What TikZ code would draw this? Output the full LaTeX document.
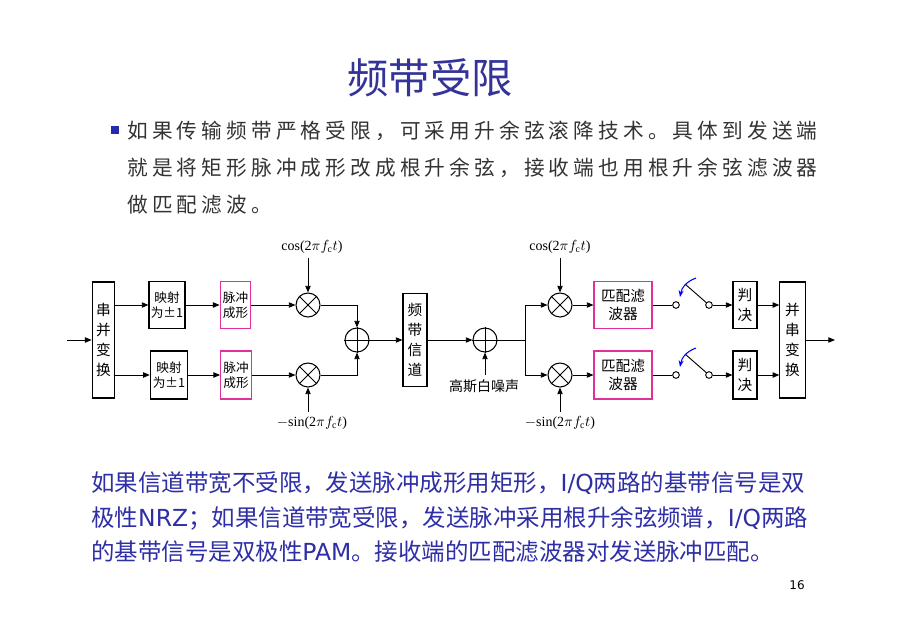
\documentclass[tikz,border=0pt]{standalone}
\usepackage{fontspec}
\setmainfont{Liberation Serif}
\newfontfamily\cjk{Noto Sans CJK SC}
\newfontfamily\cjkls{Noto Sans CJK SC}[LetterSpace=20]
\newfontfamily\vsans{DejaVu Sans}
\usetikzlibrary{arrows.meta}
\definecolor{ttl}{HTML}{333399}
\definecolor{btxt}{HTML}{2E2EA6}
\definecolor{mag}{HTML}{E0309A}
\begin{document}
\begin{tikzpicture}[x=0.75pt,y=-0.75pt,
  box/.style={draw,line width=0.8pt,inner sep=0pt,font=\cjk\fontsize{9.5}{11.5}\selectfont,align=center},
  vbox/.style={draw,line width=0.8pt,inner sep=0pt,font=\cjk\fontsize{11}{15}\selectfont,align=center},
  pbox/.style={box,draw=mag},
  circ/.style={draw,circle,line width=0.8pt,minimum size=18pt,inner sep=0pt},
  ar/.style={-{Triangle[length=5pt,width=4pt]},line width=0.7pt},
  ln/.style={line width=0.7pt},
  lab/.style={font=\fontsize{10.5}{12}\selectfont},
  contact/.style={draw,circle,line width=0.7pt,minimum size=5pt,inner sep=0pt}]
\useasboundingbox (0,0) rectangle (906,640);
% title and text
\node[font=\cjk\fontsize{31}{35}\selectfont,text=ttl] (title) at (430,78) {频带受限};
\fill[ttl!80!blue] (111,126) rectangle (119,134);
\node[anchor=west,font=\cjkls\fontsize{15.5}{18}\selectfont,text=black!80,inner sep=0pt] (t1) at (127,131) {如果传输频带严格受限，可采用升余弦滚降技术。具体到发送端};
\node[anchor=west,font=\cjkls\fontsize{15.5}{18}\selectfont,text=black!80,inner sep=0pt] (t2) at (127,168) {就是将矩形脉冲成形改成根升余弦，接收端也用根升余弦滤波器};
\node[anchor=west,font=\cjkls\fontsize{15.5}{18}\selectfont,text=black!80,inner sep=0pt] (t3) at (127,205) {做匹配滤波。};
\node[anchor=west,font=\cjk\fontsize{17.6}{20}\selectfont,text=btxt,inner sep=0pt] (b1) at (91,483) {如果信道带宽不受限，发送脉冲成形用矩形，{\vsans I/Q}两路的基带信号是双};
\node[anchor=west,font=\cjk\fontsize{17.6}{20}\selectfont,text=btxt,inner sep=0pt] (b2) at (91,518) {极性{\vsans NRZ}；如果信道带宽受限，发送脉冲采用根升余弦频谱，{\vsans I/Q}两路};
\node[anchor=west,font=\cjk\fontsize{17.6}{20}\selectfont,text=btxt,inner sep=0pt] (b3) at (91,552) {的基带信号是双极性{\vsans PAM}。接收端的匹配滤波器对发送脉冲匹配。};
\node[font=\vsans\fontsize{9}{11}\selectfont] (pg) at (797,585) {16};
% diagram
\node[vbox,minimum width=17pt,minimum height=87pt] (sp) at (103.5,340) {串\\并\\变\\换};
\coordinate (in) at (67,340);
\node[box,minimum width=27pt,minimum height=35pt] (m1) at (167,305) {映射\\为±1};
\node[box,minimum width=28pt,minimum height=36pt] (m2) at (169,375) {映射\\为±1};
\node[pbox,minimum width=23pt,minimum height=35pt] (p1) at (235.5,305) {脉冲\\成形};
\node[pbox,minimum width=23pt,minimum height=36pt] (p2) at (236,375) {脉冲\\成形};
\node[circ] (x1) at (308,305) {};
\node[circ] (x2) at (308,375) {};
\draw[line width=0.7pt] (x1.north west)--(x1.south east) (x1.north east)--(x1.south west);
\draw[line width=0.7pt] (x2.north west)--(x2.south east) (x2.north east)--(x2.south west);
\node[lab] (c1) at (312,247) {cos(2$\pi$$f_{\mathrm c}t$)};
\node[lab] (s1) at (312,423) {$-$sin(2$\pi$$f_{\mathrm c}t$)};
\node[circ] (a1) at (357,340) {};
\draw[line width=0.7pt] (a1.north)--(a1.south) (a1.west)--(a1.east);
\node[vbox,minimum width=18pt,minimum height=70pt] (ch) at (415,340) {频\\带\\信\\道};
\node[circ] (a2) at (485,340) {};
\draw[line width=0.7pt] (a2.north)--(a2.south) (a2.west)--(a2.east);
\node[font=\cjk\fontsize{10.5}{12}\selectfont] (gn) at (484,386) {高斯白噪声};
\coordinate (sp2) at (525,340);
\node[circ] (y1) at (560,305) {};
\node[circ] (y2) at (560,375) {};
\draw[line width=0.7pt] (y1.north west)--(y1.south east) (y1.north east)--(y1.south west);
\draw[line width=0.7pt] (y2.north west)--(y2.south east) (y2.north east)--(y2.south west);
\node[lab] (c2) at (560,247) {cos(2$\pi$$f_{\mathrm c}t$)};
\node[lab] (s2) at (560,423) {$-$sin(2$\pi$$f_{\mathrm c}t$)};
\node[pbox,font=\cjk\fontsize{11}{14}\selectfont,minimum width=43.5pt,minimum height=35pt] (f1) at (623,305) {匹配滤\\波器};
\node[pbox,font=\cjk\fontsize{11}{14}\selectfont,minimum width=43.5pt,minimum height=36pt] (f2) at (623,375) {匹配滤\\波器};
\node[contact] (k1) at (676,305) {};
\node[contact] (l1) at (709,305) {};
\node[contact] (k2) at (676,375) {};
\node[contact] (l2) at (709,375) {};
\coordinate (w1) at (685,284);
\coordinate (w2) at (685,354);
\node[vbox,minimum width=18pt,minimum height=35pt] (d1) at (745,305) {判\\决};
\node[vbox,minimum width=18pt,minimum height=36pt] (d2) at (745,375) {判\\决};
\node[vbox,minimum width=19pt,minimum height=87pt] (ps) at (792.5,340) {并\\串\\变\\换};
\coordinate (out) at (835,340);
% connectors
\draw[ar] (in)--(sp);
\draw[ar] (sp.east|-m1)--(m1);
\draw[ar] (sp.east|-m2)--(m2);
\draw[ar] (m1)--(p1);
\draw[ar] (m2)--(p2);
\draw[ar] (p1)--(x1);
\draw[ar] (p2)--(x2);
\draw[ar] (c1.south-|x1)--(x1);
\draw[ar] (s1.north-|x2)--(x2);
\draw[ar] (x1.east)-|(a1.north);
\draw[ar] (x2.east)-|(a1.south);
\draw[ar] (a1)--(ch);
\draw[ar] (ch)--(a2);
\draw[ar] (gn.north-|a2)--(a2);
\draw[ln] (a2)--(sp2);
\draw[ar] (sp2)|-(y1);
\draw[ar] (sp2)|-(y2);
\draw[ar] (c2.south)--(y1);
\draw[ar] (s2.north)--(y2);
\draw[ar] (y1)--(f1);
\draw[ar] (y2)--(f2);
\draw[ln] (f1)--(k1);
\draw[ln] (f2)--(k2);
\draw[ln] (w1)--(l1);
\draw[ln] (w2)--(l2);
\draw[ar] (l1)--(d1);
\draw[ar] (l2)--(d2);
\draw[ar] (d1)--(ps.west|-d1);
\draw[ar] (d2)--(ps.west|-d2);
\draw[ar] (ps)--(out);
\draw[blue,line width=0.8pt,-{Stealth[length=5pt]}] (696,278) to[bend right=30] (680,297);
\draw[blue,line width=0.8pt,-{Stealth[length=5pt]}] (696,348) to[bend right=30] (680,367);
\end{tikzpicture}
\end{document}
